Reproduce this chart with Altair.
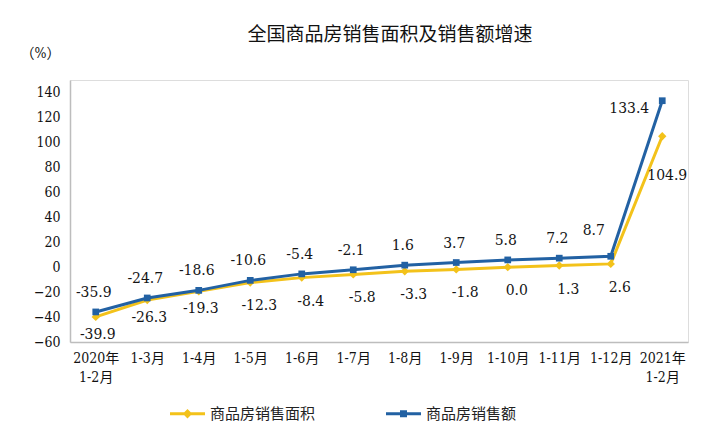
import altair as alt
import pandas as pd

periods = ["2020年 1-2月", "1-3月", "1-4月", "1-5月", "1-6月", "1-7月", "1-8月",
           "1-9月", "1-10月", "1-11月", "1-12月", "2021年 1-2月"]
area_growth = [-39.9, -26.3, -19.3, -12.3, -8.4, -5.8, -3.3, -1.8, 0.0, 1.3, 2.6, 104.9]
sales_growth = [-35.9, -24.7, -18.6, -10.6, -5.4, -2.1, 1.6, 3.7, 5.8, 7.2, 8.7, 133.4]
series_names = ["商品房销售面积", "商品房销售额"]
series_colors = ["#f3c21a", "#2261a3"]
y_ticks = [-60, -40, -20, 0, 20, 40, 60, 80, 100, 120, 140]
chart_title = "全国商品房销售面积及销售额增速"
unit_label = "（%）"

rows = []
for i, p in enumerate(periods):
    rows.append({"period": p, "idx": i, "series": series_names[0], "value": area_growth[i]})
    rows.append({"period": p, "idx": i, "series": series_names[1], "value": sales_growth[i]})
df = pd.DataFrame(rows)
df["label"] = df["value"].map(lambda v: f"{v:.1f}")

SERIF = "DejaVu Serif Condensed, DejaVu Serif, Noto Sans CJK SC"
CJK = "Noto Sans CJK SC"
GRAY = "#bdbdbd"

x_enc = alt.X(
    "period:N", sort=periods, title=None,
    scale=alt.Scale(type="point", padding=0.5),
    axis=alt.Axis(labelAngle=0, labelExpr="split(datum.label, ' ')", labelLineHeight=19,
                  labelPadding=9, labelFont=SERIF, labelFontSize=14, labelColor="#111",
                  ticks=False, labelOverlap=False, domainColor=GRAY, domainWidth=1.5),
)
y_enc = alt.Y(
    "value:Q", title=unit_label,
    scale=alt.Scale(domain=[-60, 150], nice=False, zero=False),
    axis=alt.Axis(values=y_ticks, grid=False, ticks=False, labelPadding=10, labelFont=SERIF,
                  labelFontSize=14, labelColor="#111", domainColor=GRAY, domainWidth=1.5,
                  titleAngle=0, titleX=-30, titleY=-27, titleAlign="center",
                  titleBaseline="middle", titleFont=SERIF, titleFontSize=14,
                  titleFontWeight="normal", titleColor="#111"),
)

base = alt.Chart(df).encode(x=x_enc, y=y_enc)


def series_filter(k):
    return alt.datum.series == series_names[k]


def line_layer(k):
    return base.transform_filter(series_filter(k)).mark_line(strokeWidth=3, color=series_colors[k])


def point_layer(k, shape, size):
    return base.transform_filter(series_filter(k)).mark_point(
        shape=shape, filled=True, size=size, opacity=1, strokeWidth=0, color=series_colors[k])


def labels(k, idxs, dx, dy):
    return base.transform_filter(series_filter(k)).transform_filter(
        alt.FieldOneOfPredicate(field="idx", oneOf=idxs)
    ).mark_text(dx=dx, dy=dy, font=SERIF, fontSize=15.5, color="#151515").encode(
        text="label:N")


lbl_layers = [
    labels(1, list(range(0, 10)), -2, -20),
    labels(1, [10], -17, -26),
    labels(1, [11], -33, 7),
    labels(0, [0, 1, 2], 2, 17),
    labels(0, list(range(3, 11)), 9, 23),
    labels(0, [11], 5, 39),
]

path_area = "M-1,-0.09L1,-0.09L1,0.09L-1,0.09Z M0,-0.27L0.27,0L0,0.27L-0.27,0Z"
path_sales = "M-1,-0.09L1,-0.09L1,0.09L-1,0.09Z M-0.2,-0.2L0.2,-0.2L0.2,0.2L-0.2,0.2Z"
leg = alt.Legend(orient="none", legendX=100, legendY=316, direction="horizontal",
                 symbolSize=1225, symbolStrokeWidth=0, symbolOpacity=1,
                 labelFont=CJK, labelFontSize=15, labelColor="#222",
                 labelOffset=5, columnPadding=70)
legend_layer = alt.Chart(df).transform_filter("false").mark_point(filled=True, opacity=1).encode(
    x=x_enc, y=y_enc,
    color=alt.Color("series:N", title="", scale=alt.Scale(domain=series_names, range=series_colors),
                    legend=leg),
    shape=alt.Shape("series:N", title="",
                    scale=alt.Scale(domain=series_names, range=[path_area, path_sales]),
                    legend=leg),
)

chart = alt.layer(
    line_layer(0), point_layer(0, "diamond", 70),
    line_layer(1), point_layer(1, "square", 45),
    *lbl_layers, legend_layer
).properties(
    width=618, height=262,
    title=alt.TitleParams(chart_title, font=CJK, fontSize=19, fontWeight="normal",
                          anchor="middle", frame="group", dx=11, offset=1, color="#111"),
    autosize=alt.AutoSizeParams(type="none"),
    padding={"left": 62, "top": 72, "right": 24, "bottom": 86},
).configure_view(stroke=GRAY, strokeWidth=1.5).configure(background="white")

chart.save("out.html", embed_options={"renderer": "svg", "actions": False})
